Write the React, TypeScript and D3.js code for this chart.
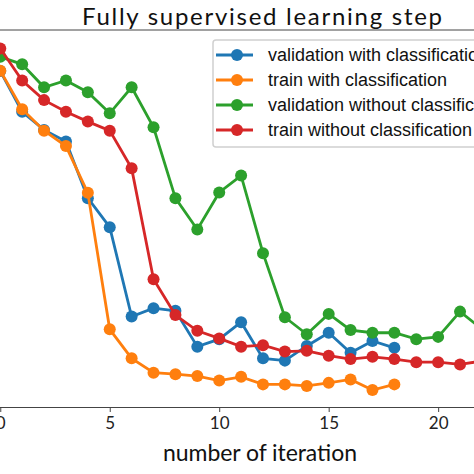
import React, { useEffect, useRef } from "react";
import * as d3 from "d3";

const iterations = d3.range(0, 23);

const validationWithCls = [89.1, 78.3, 73.5, 70.4, 55.4, 47.7, 24.0, 26.2, 25.5, 16.0, 18.0, 22.5, 12.9, 12.3, 16.2, 19.7, 14.4, 17.5, 15.7];
const trainWithCls = [89.2, 79.0, 73.3, 69.2, 56.8, 20.6, 12.9, 9.1, 8.7, 8.2, 7.0, 8.0, 6.0, 6.0, 5.6, 6.4, 7.3, 4.5, 6.0];
const validationWithoutCls = [92.9, 90.9, 84.8, 86.6, 83.5, 77.9, 84.8, 74.2, 55.4, 47.1, 56.9, 61.4, 40.8, 23.8, 19.3, 24.7, 20.4, 19.7, 19.7, 18.0, 18.6, 25.3, 20.7];
const trainWithoutCls = [95.1, 86.6, 81.4, 78.3, 75.7, 73.3, 63.3, 33.9, 24.4, 20.2, 18.2, 16.0, 16.4, 14.7, 14.9, 13.6, 12.7, 13.3, 12.7, 11.9, 11.9, 11.3, 12.2];

const seriesNames = [
  "validation with classification",
  "train with classification",
  "validation without classification",
  "train without classification",
];
const seriesColors = ["#1f77b4", "#ff7f0e", "#2ca02c", "#d62728"];
const xTicks = [0, 5, 10, 15, 20];

const title = "Fully supervised learning step";
const xLabel = "number of iteration";

const W = 474;
const H = 474;

export default function App() {
  const ref = useRef<SVGSVGElement>(null);

  useEffect(() => {
    const svg = d3.select(ref.current);
    svg.selectAll("*").remove();

    // plot box is wider than the picture, the original is cropped
    const x = d3.scaleLinear().domain([-1.2, 25.2]).range([-26, 552]);
    const y = d3.scaleLinear().domain([0, 100]).range([407, 30]);

    const all = [validationWithCls, trainWithCls, validationWithoutCls, trainWithoutCls];

    svg.append("rect").attr("width", W).attr("height", H).attr("fill", "white");

    const calibri = "Lato, 'Open Sans', sans-serif";

    svg
      .append("text")
      .attr("x", 262)
      .attr("y", 24.5)
      .attr("text-anchor", "middle")
      .attr("font-family", calibri)
      .attr("font-size", 24)
      .attr("textLength", 360)
      .attr("lengthAdjust", "spacing")
      .attr("fill", "#111")
      .text(title);

    const line = d3
      .line<number>()
      .x((d, i) => x(iterations[i]))
      .y((d) => y(d));

    all.forEach((vals, k) => {
      const g = svg.append("g");
      g.append("path")
        .datum(vals)
        .attr("fill", "none")
        .attr("stroke", seriesColors[k])
        .attr("stroke-width", 2.8)
        .attr("d", line);
      g.selectAll("circle")
        .data(vals)
        .join("circle")
        .attr("cx", (d, i) => x(iterations[i]))
        .attr("cy", (d) => y(d))
        .attr("r", 6)
        .attr("fill", seriesColors[k]);
    });

    // spines
    svg.append("line").attr("x1", 0).attr("x2", W).attr("y1", y(100)).attr("y2", y(100))
      .attr("stroke", "#444").attr("stroke-width", 1);

    const axis = svg
      .append("g")
      .attr("transform", `translate(0,${y(0)})`)
      .call(d3.axisBottom(x).tickValues(xTicks).tickSize(5).tickPadding(5));
    axis.select(".domain").attr("stroke", "#444");
    axis.selectAll(".tick line").attr("stroke", "#444");
    axis.selectAll(".tick text").attr("font-family", calibri).attr("font-size", 17).attr("fill", "#222");

    svg
      .append("text")
      .attr("x", 260)
      .attr("y", 461)
      .attr("text-anchor", "middle")
      .attr("font-family", calibri)
      .attr("font-size", 23)
      .attr("textLength", 194)
      .attr("lengthAdjust", "spacing")
      .attr("fill", "#111")
      .text(xLabel);

    // legend
    const lg = svg.append("g").attr("transform", "translate(213,40)");
    lg.append("rect")
      .attr("width", 300)
      .attr("height", 107)
      .attr("rx", 3)
      .attr("fill", "white")
      .attr("fill-opacity", 0.85)
      .attr("stroke", "#d0d0d0")
      .attr("stroke-width", 1.5);
    seriesNames.forEach((name, k) => {
      const row = lg.append("g").attr("transform", `translate(0,${15 + k * 25})`);
      row.append("line").attr("x1", 3).attr("x2", 40).attr("stroke", seriesColors[k]).attr("stroke-width", 2.8);
      row.append("circle").attr("cx", 24).attr("r", 6).attr("fill", seriesColors[k]);
      row.append("text")
        .attr("x", 55)
        .attr("y", 6)
        .attr("font-family", "'Liberation Sans', Arial, sans-serif")
        .attr("font-size", 18)
        .attr("fill", "#111")
        .text(name);
    });
  }, []);

  return (
    <svg
      ref={ref}
      width={W}
      height={H}
      style={{ position: "absolute", left: 0, top: 0, display: "block" }}
    />
  );
}
